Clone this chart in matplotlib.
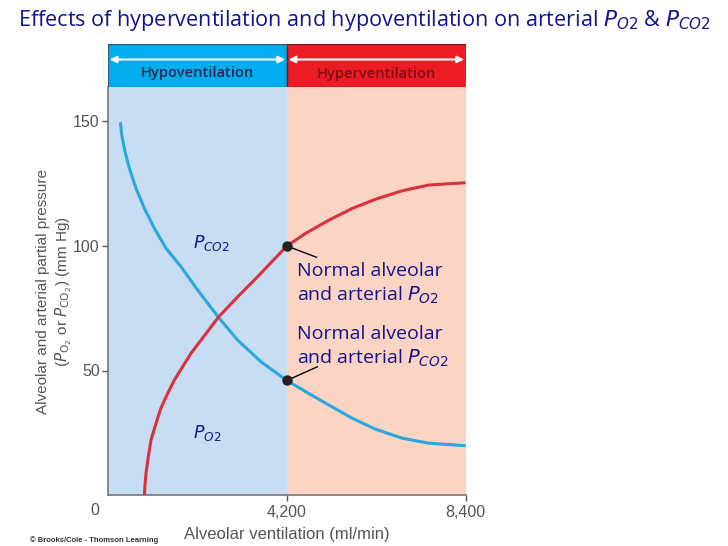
import matplotlib
matplotlib.use("Agg")
import matplotlib.pyplot as plt

# ventilation (ml/min) vs partial pressure (mm Hg)
co2_x = [291, 322, 399, 502, 657, 855, 1089, 1362, 1714, 2106, 2592, 3045, 3593, 4200,
         4642, 5189, 5738, 6285, 6912, 7537, 8400]
co2_y = [149.7, 144.6, 137.9, 131.2, 123.2, 115.1, 107.1, 99.1, 91.7, 82.3, 71.4, 62.2, 53.5, 46.0,
         41.5, 36.1, 30.8, 26.4, 22.8, 20.8, 19.8]
o2_x = [855, 869, 893, 948, 1010, 1128, 1245, 1402, 1559, 1949, 2592, 3045, 3515, 4200,
        4642, 5189, 5738, 6285, 6912, 7537, 8400]
o2_y = [0, 4.0, 8.7, 15.4, 22.1, 28.8, 35.0, 40.8, 46.2, 56.9, 71.4, 79.6, 87.7, 100.0,
        105.1, 110.4, 115.1, 118.8, 122.2, 124.5, 125.4]
normal_x = 4200
normal_o2 = 100
normal_co2 = 46
x_ticks = [4200, 8400]
x_tick_labels = ["4,200", "8,400"]
y_ticks = [50, 100, 150]
zones = ["Hypoventilation", "Hyperventilation"]

NAVY = "#14148c"
GREY = "#555555"
TICKFONT = "Liberation Sans"

fig = plt.figure(figsize=(7.28, 5.46), dpi=100)
fig.patch.set_facecolor("white")

ax = fig.add_axes([108 / 728, 51 / 546, (465.7 - 108) / 728, (495 - 87) / 546])
ax.set_xlim(0, 8400)
ax.set_ylim(0, 408 / 2.49)
ax.axvspan(0, normal_x, color="#c6ddf3", zorder=0)
ax.axvspan(normal_x, 8400, color="#fbd4c4", zorder=0)

ax.plot(co2_x, co2_y, color="#28a7df", lw=2.2, solid_capstyle="butt",
        solid_joinstyle="round", zorder=3)
ax.plot(o2_x, o2_y, color="#d9323e", lw=2.2, solid_capstyle="butt",
        solid_joinstyle="round", zorder=3)
ax.plot([normal_x, normal_x], [normal_o2, normal_co2], "o", color="#222222", ms=6.5,
        ls="none", zorder=5)

# leader lines to the normal-point labels
ax.plot([normal_x, 4893], [normal_o2, 95.5], color="black", lw=1.0, zorder=4)
ax.plot([normal_x, 4916], [normal_co2, 51.5], color="black", lw=1.0, zorder=4)

lab = dict(color=NAVY, fontsize=14, family="Open Sans", va="center", ha="left",
           linespacing=1.3)
ax.text(4440, 84.6, "Normal alveolar\nand arterial $P_{O2}$", **lab)
ax.text(4440, 59.6, "Normal alveolar\nand arterial $P_{CO2}$", **lab)
ax.text(1990, 101.2, "$P_{CO2}$", color=NAVY, fontsize=12.5, va="center", ha="left")
ax.text(1990, 24.9, "$P_{O2}$", color=NAVY, fontsize=12.5, va="center", ha="left")

for s in ["top", "right"]:
    ax.spines[s].set_visible(False)
for s in ["left", "bottom"]:
    ax.spines[s].set_color("#777777")
    ax.spines[s].set_linewidth(1.2)
ax.set_xticks(x_ticks)
ax.set_xticklabels(x_tick_labels)
ax.set_yticks(y_ticks)
ax.tick_params(colors=GREY, labelsize=11.5, length=4, width=1)
ax.tick_params(axis="x", pad=3.5)
ax.tick_params(axis="y", pad=2)
for t in ax.get_xticklabels() + ax.get_yticklabels():
    t.set_family(TICKFONT)
ax.text(-0.036, -0.037, "0", transform=ax.transAxes, color=GREY, fontsize=11.5,
        family=TICKFONT, ha="center", va="center")
fig.text(287 / 728, 1 - 535 / 546, "Alveolar ventilation (ml/min)", color=GREY,
         fontsize=12, family=TICKFONT, ha="center", va="center")
fig.text(55 / 728, 1 - 292 / 546,
         "Alveolar and arterial partial pressure\n"
         "($P_{\\mathrm{O_2}}$ or $P_{\\mathrm{CO_2}}$) (mm Hg)",
         color=GREY, fontsize=11, family=TICKFONT, rotation=90,
         ha="center", va="center", linespacing=1.25, multialignment="center")

# header band
hx = fig.add_axes([108 / 728, (546 - 87) / 546, (465.7 - 108) / 728, 43 / 546])
hx.set_xlim(0, 8400)
hx.set_ylim(0, 1)
hx.axis("off")
hx.axvspan(0, normal_x, color="#00aeef", ec="#3a5a7a", lw=1)
hx.axvspan(normal_x, 8400, color="#ed1c24", ec="#7a1a1a", lw=1)
for x0, x1 in [(40, 4160), (4240, 8360)]:
    hx.annotate("", xy=(x0, 0.64), xytext=(x1, 0.64),
                arrowprops=dict(arrowstyle="<|-|>", color="white", lw=1.5,
                                mutation_scale=10, shrinkA=0, shrinkB=0))
hx.text(2100, 0.33, zones[0], color="#2e2550", fontsize=10.5, family="Open Sans",
        ha="center", va="center", fontweight="semibold")
hx.text(6300, 0.30, zones[1], color="#7a0e14", fontsize=10.5, family="Open Sans",
        ha="center", va="center", fontweight="semibold")

fig.text(0.5, 0.963, "Effects of hyperventilation and hypoventilation on arterial $P_{O2}$ & $P_{CO2}$",
         color=NAVY, fontsize=15.6, family="Open Sans", ha="center", va="center")
fig.text(30 / 728, 1 - 540 / 546, "© Brooks/Cole - Thomson Learning",
         color="#333333", fontsize=5.5, family=TICKFONT, fontweight="bold",
         ha="left", va="center")

fig.savefig("out.png", dpi=100)
